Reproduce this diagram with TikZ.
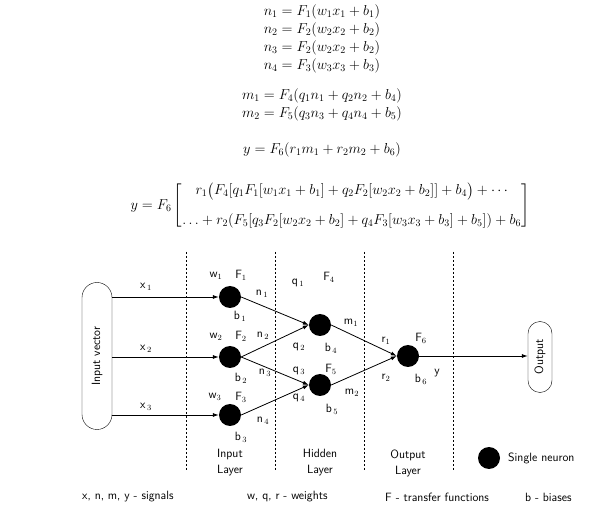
\documentclass[tikz,border=0pt]{standalone}
\usepackage{amsmath}
\usetikzlibrary{arrows.meta}
\begin{document}
\begin{tikzpicture}[x=1pt,y=-1pt,
  neuron/.style={circle,fill=black,minimum size=22pt,inner sep=0pt},
  lbl/.style={font=\sffamily\fontsize{12}{13}\selectfont,inner sep=0pt},
  conn/.style={-{Latex[length=6pt,width=4pt]},line width=0.8pt},
  sep/.style={dashed,line width=0.4pt,dash pattern=on 2pt off 2pt},
  eq/.style={font=\fontsize{14.5}{16}\selectfont,inner sep=0pt}]
\useasboundingbox (0,0) rectangle (614,513);
% equations
\node[eq] (e1) at (322,12) {$n_1=F_1(w_1x_1+b_1)$};
\node[eq] (e2) at (322,30) {$n_2=F_2(w_2x_2+b_2)$};
\node[eq] (e3) at (322,48) {$n_3=F_2(w_2x_2+b_2)$};
\node[eq] (e4) at (322,66) {$n_4=F_3(w_3x_3+b_3)$};
\node[eq] (e5) at (322,96) {$m_1=F_4(q_1n_1+q_2n_2+b_4)$};
\node[eq] (e6) at (322,114) {$m_2=F_5(q_3n_3+q_4n_4+b_5)$};
\node[eq] (e7) at (322,150) {$y=F_6(r_1m_1+r_2m_2+b_6)$};
\node[eq] (e8) at (330,206) {$y=F_6\left[\begin{array}{@{}c@{}}
r_1\bigl(F_4[q_1F_1[w_1x_1+b_1]+q_2F_2[w_2x_2+b_2]]+b_4\bigr)+\cdots\\[14pt]
\ldots+r_2(F_5[q_3F_2[w_2x_2+b_2]+q_4F_3[w_3x_3+b_3]+b_5])+b_6
\end{array}\right]$};
% separators
\foreach \x in {186,275,364,453} \draw[sep] (\x,252) -- (\x,470);
% boxes
\node[draw,rounded corners=15pt,minimum width=30pt,minimum height=147pt,inner sep=0pt] (in) at (97,356) {};
\node[lbl,rotate=90] (intext) at (in) {Input vector};
\node[draw,rounded corners=12pt,minimum width=24pt,minimum height=71pt,inner sep=0pt] (out) at (540,357) {};
\node[lbl,rotate=90] (outtext) at (out) {Output};
% neurons
\node[neuron] (N1) at (230,297) {};
\node[neuron] (N2) at (230,357) {};
\node[neuron] (N3) at (230,415) {};
\node[neuron] (N4) at (320,325) {};
\node[neuron] (N5) at (320,385) {};
\node[neuron] (N6) at (408,356) {};
\coordinate (i1) at (112,297);
\coordinate (i2) at (112,357);
\coordinate (i3) at (112,415);
\draw[conn] (i1) -- (N1);
\draw[conn] (i2) -- (N2);
\draw[conn] (i3) -- (N3);
\draw[conn] (N1.east) -- (N4.west);
\draw[conn] (N2.east) -- (N4.west);
\draw[conn] (N2.east) -- (N5.west);
\draw[conn] (N3.east) -- (N5.west);
\draw[conn] (N4.east) -- (N6.west);
\draw[conn] (N5.east) -- (N6.west);
\draw[conn] (N6.east) -- (out.west |- N6.east);
% labels
\node[lbl] (lx1) at (146,287) {x$_{\,1}$};
\node[lbl] (lx2) at (146,349) {x$_{\,2}$};
\node[lbl] (lx3) at (146,407) {x$_{\,3}$};
\node[lbl] (lw1) at (216,276) {w$_1$};
\node[lbl] (lF1) at (241,275) {F$_1$};
\node[lbl] (ln1) at (262,294) {n$_{\,1}$};
\node[lbl] (lb1) at (240,316) {b$_{\,1}$};
\node[lbl] (lw2) at (216,337) {w$_2$};
\node[lbl] (lF2) at (241,336) {F$_2$};
\node[lbl] (ln2) at (263,336) {n$_{\,2}$};
\node[lbl] (lb2) at (241,378) {b$_{\,2}$};
\node[lbl] (ln3) at (265,373) {n$_{\,3}$};
\node[lbl] (lw3) at (215,397) {w$_3$};
\node[lbl] (lF3) at (241,397) {F$_3$};
\node[lbl] (ln4) at (263,421) {n$_{\,4}$};
\node[lbl] (lb3) at (241,437) {b$_{\,3}$};
\node[lbl] (lq1) at (298,283) {q$_{\,1}$};
\node[lbl] (lF4) at (329,277) {F$_4$};
\node[lbl] (lm1) at (351,323) {m$_1$};
\node[lbl] (lq2) at (299,347) {q$_{\,2}$};
\node[lbl] (lb4) at (331,348) {b$_{\,4}$};
\node[lbl] (lq3) at (299,371) {q$_{\,3}$};
\node[lbl] (lF5) at (331,369) {F$_5$};
\node[lbl] (lq4) at (299,398) {q$_{\,4}$};
\node[lbl] (lm2) at (352,393) {m$_2$};
\node[lbl] (lb5) at (332,409) {b$_{\,5}$};
\node[lbl] (lr1) at (386,341) {r$_1$};
\node[lbl] (lF6) at (421,338) {F$_6$};
\node[lbl] (lr2) at (386,378) {r$_2$};
\node[lbl] (lb6) at (421,379) {b$_{\,6}$};
\node[lbl] (ly) at (437,373) {y};
\node[lbl,align=center] (L1) at (230,463) {Input\\[3pt]Layer};
\node[lbl,align=center] (L2) at (320,463) {Hidden\\[3pt]Layer};
\node[lbl,align=center] (L3) at (408,463) {Output\\[3pt]Layer};
\node[neuron] (leg) at (489,458) {};
\node[lbl,anchor=west] (legt) at (508,458) {Single neuron};
\node[lbl,anchor=west] (s1) at (82,497) {x, n, m, y - signals};
\node[lbl,anchor=west] (s2) at (247,497) {w, q, r - weights};
\node[lbl,anchor=west] (s3) at (385,497) {F - transfer functions};
\node[lbl,anchor=west] (s4) at (525,497) {b - biases};
\end{tikzpicture}
\end{document}
